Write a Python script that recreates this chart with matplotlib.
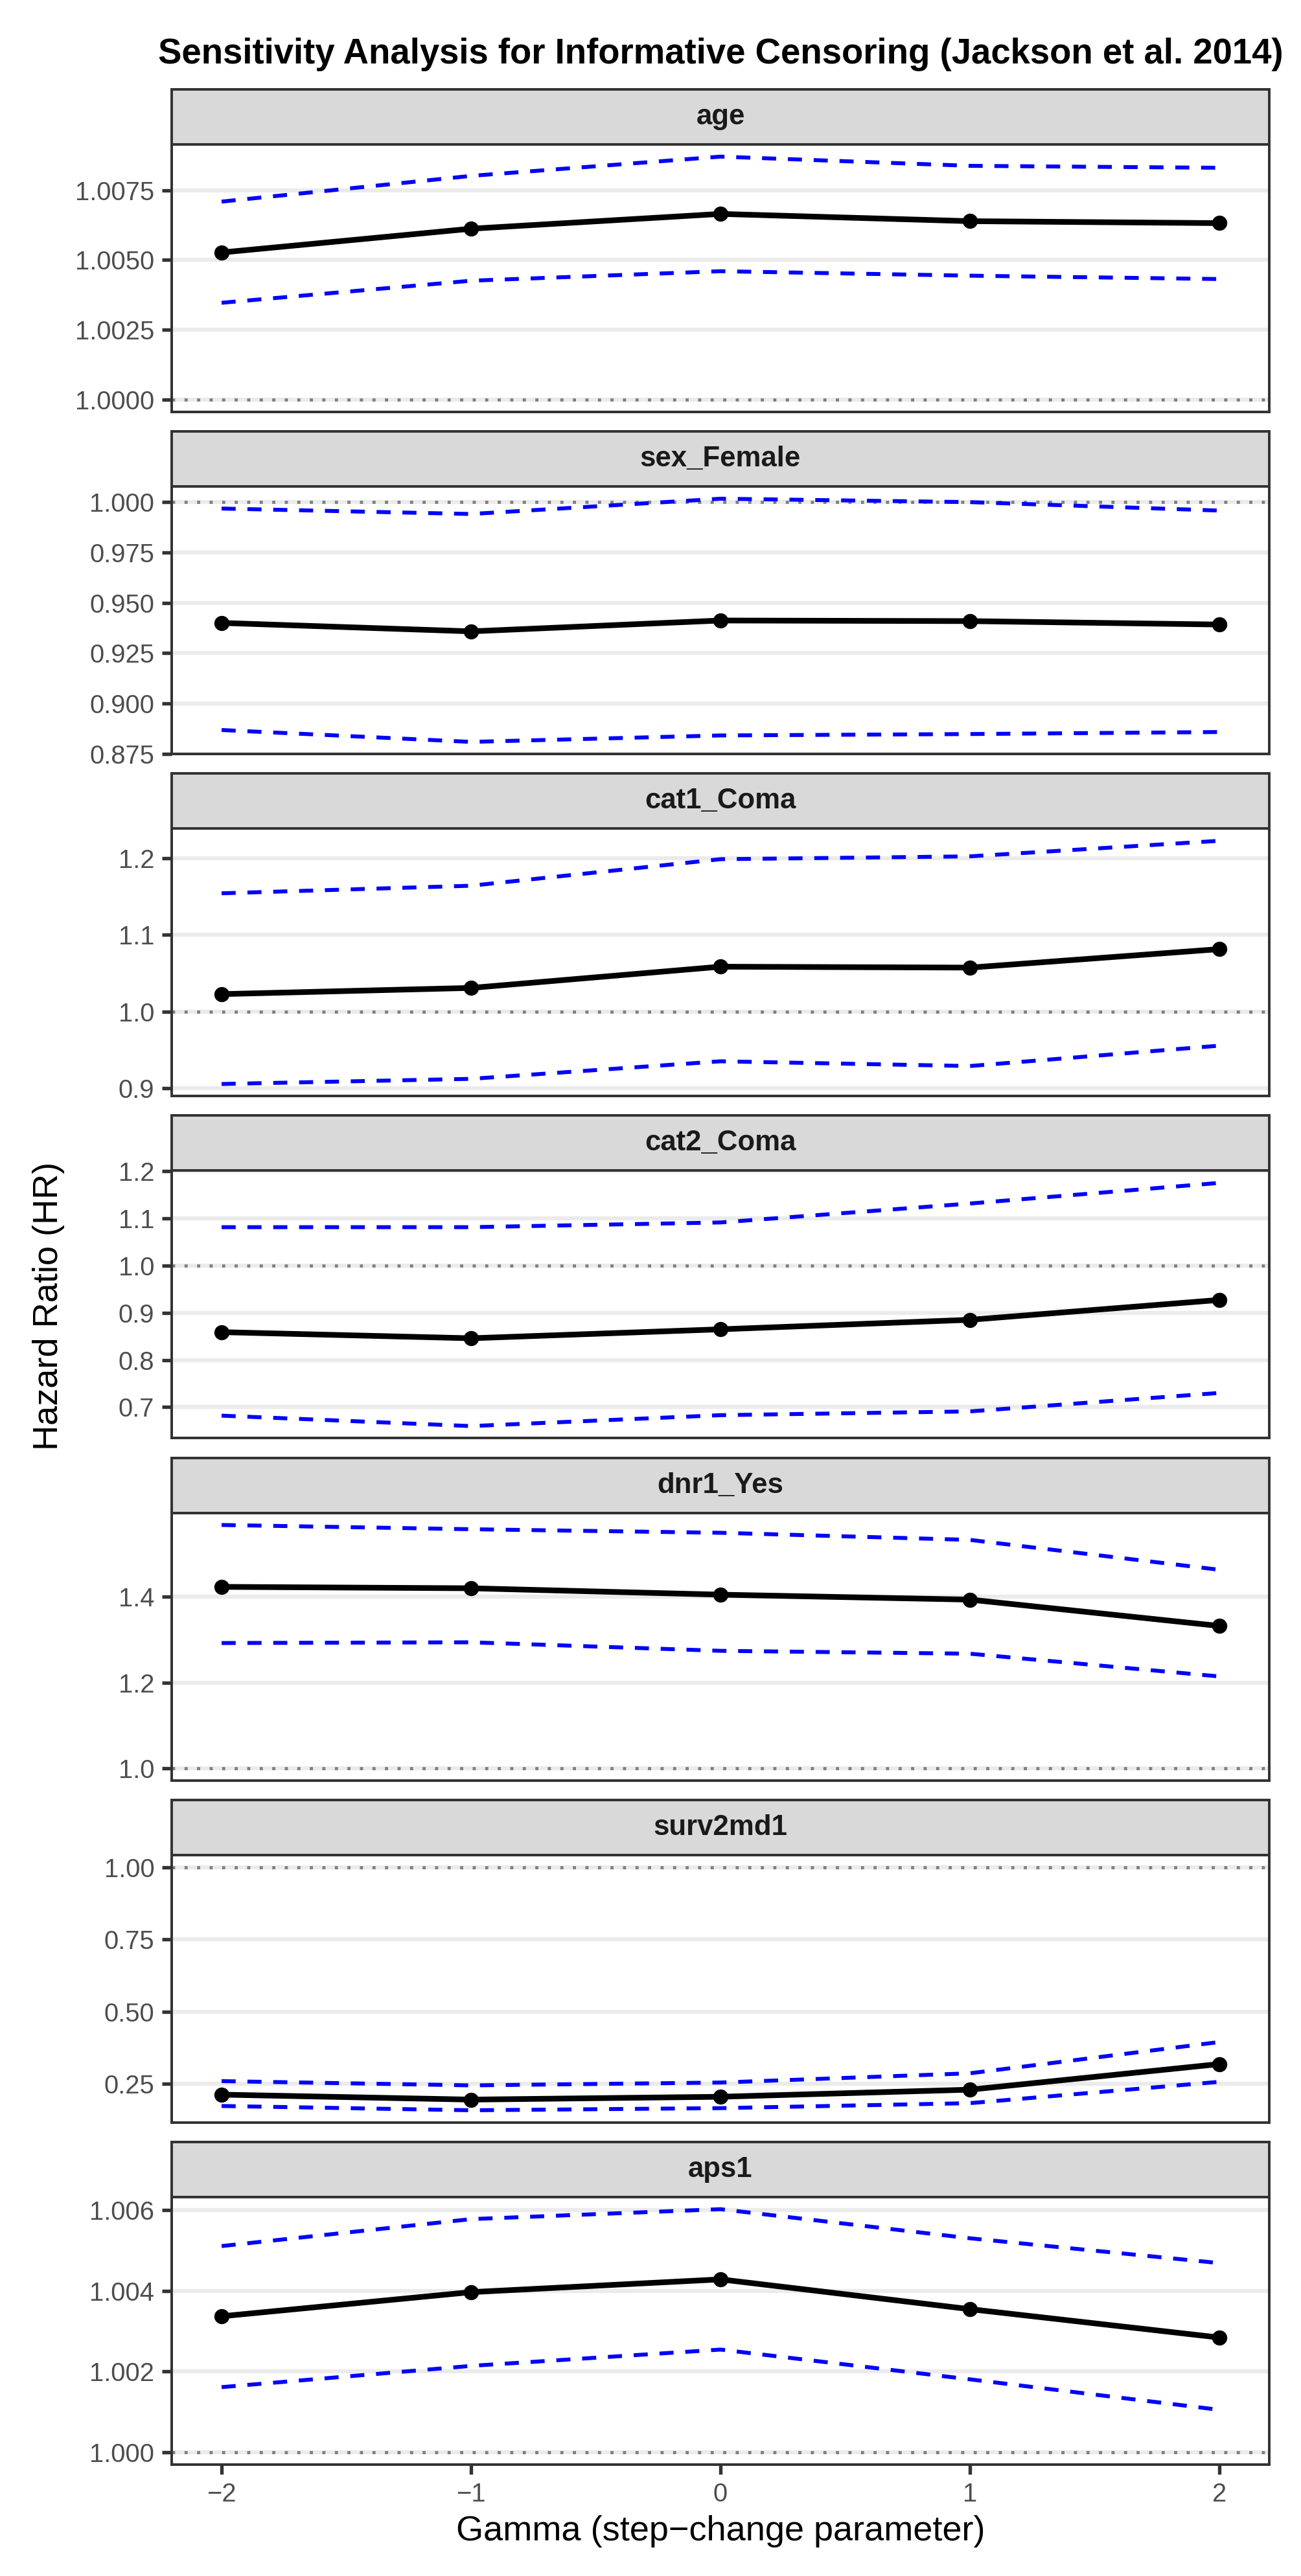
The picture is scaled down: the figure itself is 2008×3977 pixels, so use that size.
import matplotlib
matplotlib.use("Agg")
import matplotlib.pyplot as plt

plt.rcParams['font.family'] = ['Liberation Sans', 'DejaVu Sans']
plt.rcParams['axes.unicode_minus'] = True

# ---------------- data ----------------
gamma = [-2, -1, 0, 1, 2]
gamma_labels = ["\u22122", "\u22121", "0", "1", "2"]
variables = ["age", "sex_Female", "cat1_Coma", "cat2_Coma", "dnr1_Yes", "surv2md1", "aps1"]

age_hr = [1.00527, 1.00612, 1.00665, 1.00639, 1.00632]
age_lo = [1.00347, 1.00426, 1.00460, 1.00444, 1.00432]
age_hi = [1.00709, 1.00801, 1.00870, 1.00837, 1.00830]

sex_hr = [0.9400, 0.9358, 0.9412, 0.9409, 0.9392]
sex_lo = [0.8868, 0.8809, 0.8841, 0.8848, 0.8858]
sex_hi = [0.9968, 0.9941, 1.0017, 1.0000, 0.9958]

cat1_hr = [1.0228, 1.0309, 1.0586, 1.0574, 1.0815]
cat1_lo = [0.9056, 0.9123, 0.9352, 0.9290, 0.9556]
cat1_hi = [1.1543, 1.1642, 1.1988, 1.2025, 1.2228]

cat2_hr = [0.8589, 0.8459, 0.8649, 0.8850, 0.9271]
cat2_lo = [0.6820, 0.6599, 0.6830, 0.6910, 0.7301]
cat2_hi = [1.0812, 1.0812, 1.0912, 1.1313, 1.1750]

dnr_hr = [1.4232, 1.4199, 1.4050, 1.3934, 1.3320]
dnr_lo = [1.2921, 1.2938, 1.2739, 1.2672, 1.2141]
dnr_hi = [1.5676, 1.5577, 1.5494, 1.5328, 1.4631]

surv_hr = [0.2131, 0.1959, 0.2057, 0.2303, 0.3188]
surv_lo = [0.1738, 0.1590, 0.1664, 0.1836, 0.2574]
surv_hi = [0.2598, 0.2451, 0.2549, 0.2869, 0.3950]

aps_hr = [1.003368, 1.003965, 1.004281, 1.003544, 1.002842]
aps_lo = [1.001614, 1.002140, 1.002544, 1.001807, 1.001053]
aps_hi = [1.005105, 1.005772, 1.006018, 1.005298, 1.004684]

age_ticks = [1.0000, 1.0025, 1.0050, 1.0075]
age_ticklabels = ["1.0000", "1.0025", "1.0050", "1.0075"]
sex_ticks = [0.875, 0.900, 0.925, 0.950, 0.975, 1.000]
sex_ticklabels = ["0.875", "0.900", "0.925", "0.950", "0.975", "1.000"]
cat1_ticks = [0.9, 1.0, 1.1, 1.2]
cat1_ticklabels = ["0.9", "1.0", "1.1", "1.2"]
cat2_ticks = [0.7, 0.8, 0.9, 1.0, 1.1, 1.2]
cat2_ticklabels = ["0.7", "0.8", "0.9", "1.0", "1.1", "1.2"]
dnr_ticks = [1.0, 1.2, 1.4]
dnr_ticklabels = ["1.0", "1.2", "1.4"]
surv_ticks = [0.25, 0.50, 0.75, 1.00]
surv_ticklabels = ["0.25", "0.50", "0.75", "1.00"]
aps_ticks = [1.000, 1.002, 1.004, 1.006]
aps_ticklabels = ["1.000", "1.002", "1.004", "1.006"]

reference_hr = 1.0

title = "Sensitivity Analysis for Informative Censoring (Jackson et al. 2014)"
xlabel = "Gamma (step\u2212change parameter)"
ylabel = "Hazard Ratio (HR)"

series = [
    (age_hr, age_lo, age_hi, age_ticks, age_ticklabels),
    (sex_hr, sex_lo, sex_hi, sex_ticks, sex_ticklabels),
    (cat1_hr, cat1_lo, cat1_hi, cat1_ticks, cat1_ticklabels),
    (cat2_hr, cat2_lo, cat2_hi, cat2_ticks, cat2_ticklabels),
    (dnr_hr, dnr_lo, dnr_hi, dnr_ticks, dnr_ticklabels),
    (surv_hr, surv_lo, surv_hi, surv_ticks, surv_ticklabels),
    (aps_hr, aps_lo, aps_hi, aps_ticks, aps_ticklabels),
]

# ---------------- layout ----------------
W, H = 2008, 3977
DPI = 300
fig = plt.figure(figsize=(W / DPI, H / DPI), dpi=DPI)
fig.patch.set_facecolor("white")

L, R = 265, 1959
first_top = 138
pitch = 528.15
strip_h = 85
block_h = 498

border_col = "#333333"
border_lw = 0.95
tick_col = "#4D4D4D"

for i, (name, (hr, lo, hi, ticks, ticklabels)) in enumerate(zip(variables, series)):
    top = first_top + pitch * i
    # strip
    sax = fig.add_axes([L / W, 1 - (top + strip_h) / H, (R - L) / W, strip_h / H])
    sax.set_facecolor("#D9D9D9")
    sax.set_xticks([])
    sax.set_yticks([])
    for sp in sax.spines.values():
        sp.set_color(border_col)
        sp.set_linewidth(border_lw)
    sax.text(0.5, 0.5, name, transform=sax.transAxes, ha="center", va="center",
             fontsize=10.5, fontweight="bold", color="#1A1A1A")

    # panel
    ax = fig.add_axes([L / W, 1 - (top + block_h) / H, (R - L) / W, (block_h - strip_h) / H])
    ax.set_facecolor("white")
    ax.set_axisbelow(True)
    ax.yaxis.grid(True, color="#EBEBEB", linewidth=1.5)
    ax.xaxis.grid(False)

    ax.axhline(reference_hr, color="#7F7F7F", linewidth=1.16, dashes=(1, 3), zorder=1.5)
    ax.plot(gamma, lo, color="#0000FF", linewidth=1.45, dashes=(3.6, 3.0), zorder=2)
    ax.plot(gamma, hi, color="#0000FF", linewidth=1.45, dashes=(3.6, 3.0), zorder=2)
    ax.plot(gamma, hr, color="black", linewidth=2.1, zorder=3)
    ax.plot(gamma, hr, linestyle="none", marker="o", markersize=5.1,
            markerfacecolor="black", markeredgecolor="black", markeredgewidth=0.5, zorder=4)

    ymin = min(min(lo), reference_hr)
    ymax = max(max(hi), reference_hr)
    pad = 0.05 * (ymax - ymin)
    ax.set_ylim(ymin - pad, ymax + pad)
    ax.set_xlim(-2.2, 2.2)
    ax.set_yticks(ticks)
    ax.set_yticklabels(ticklabels)
    ax.set_xticks(gamma)
    ax.tick_params(axis="both", direction="out", length=3.5, width=1.3,
                   color=border_col, labelsize=9.6, labelcolor=tick_col, pad=2.9)
    if i < len(variables) - 1:
        ax.tick_params(axis="x", bottom=False, labelbottom=False)
    else:
        ax.set_xticklabels(gamma_labels)
    for sp in ax.spines.values():
        sp.set_color(border_col)
        sp.set_linewidth(border_lw)
        sp.set_zorder(5)

fig.text((L + R) / 2 / W, 1 - 98 / H, title, ha="center", va="baseline",
         fontsize=13.1, fontweight="bold", color="black")
fig.text((L + R) / 2 / W, 1 - 3922 / H, xlabel, ha="center", va="baseline",
         fontsize=13, color="black")
fig.text(75 / W, 1 - 2016 / H, ylabel, ha="center", va="center", rotation=90,
         fontsize=13, color="black")

fig.savefig("out.png", dpi=DPI, facecolor="white")
